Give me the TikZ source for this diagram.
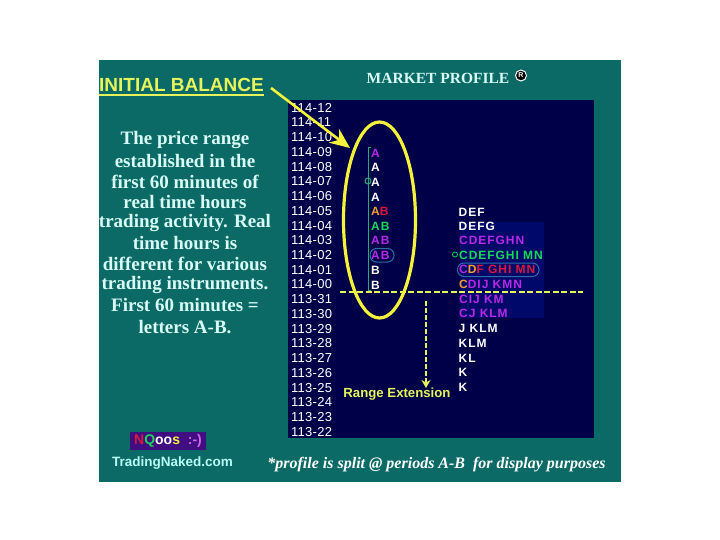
\documentclass[tikz,border=0pt]{standalone}
\usepackage{fontspec}
\setmainfont{Liberation Serif}
\setsansfont{Liberation Sans}
\newfontfamily\spacedsans[LetterSpace=8]{Liberation Sans}
\newfontfamily\rowsans[LetterSpace=2]{Liberation Sans}
\usetikzlibrary{positioning}
\usetikzlibrary{shapes.geometric, arrows.meta}
\definecolor{tealbg}{HTML}{0B6A66}
\definecolor{navybg}{HTML}{000048}
\definecolor{profilebg}{HTML}{00086A}
\definecolor{ibyellow}{HTML}{F4F23A}
\definecolor{titleyel}{HTML}{E6F45C}
\definecolor{paletxt}{HTML}{D8FBF6}
\definecolor{ltrpurple}{HTML}{B828E8}
\definecolor{ltrgreen}{HTML}{18D858}
\definecolor{ltrred}{HTML}{D8183C}
\definecolor{ltrorange}{HTML}{F0A030}
\definecolor{ovalblue}{HTML}{2C6CA8}
\definecolor{linegreen}{HTML}{2CA878}
\newcommand{\cP}{\color{ltrpurple}}
\newcommand{\cG}{\color{ltrgreen}}
\newcommand{\cR}{\color{ltrred}}
\newcommand{\cO}{\color{ltrorange}}
\tikzset{
  pricerow/.style={anchor=west,inner sep=0pt,text=white,font=\rowsans\fontsize{13}{13}\selectfont},
  ltr/.style={anchor=west,inner sep=0pt,text=white,font=\spacedsans\bfseries\fontsize{12}{12}\selectfont},
  bodyline/.style={inner sep=0pt,text=paletxt,font=\bfseries\fontsize{19}{19}\selectfont},
  ibarrow/.style={ibyellow,line width=2.6pt,-{Stealth[length=20pt,width=17pt]}},
  rangeline/.style={titleyel,line width=1.6pt,dash pattern=on 6pt off 2.5pt},
  greenring/.style={circle,draw=linegreen,line width=1pt,inner sep=0pt,minimum size=6pt},
  letteroval/.style={rounded corners=6.5pt,draw=ovalblue,line width=1pt,fill=none}
}
\begin{document}
\begin{tikzpicture}[x=1pt,y=-1pt]
\useasboundingbox (0,0) rectangle (720,540);
\fill [white] (0,0) rectangle (720,540);
\fill [tealbg] (99,60) rectangle (621,482);
\fill [navybg] (288,100) rectangle (594,438);
\fill [profilebg] (460,222) rectangle (544,318);
% price column
\foreach \lab [count=\i from 0] in {114-12,114-11,114-10,114-09,114-08,114-07,114-06,114-05,114-04,114-03,114-02,114-01,114-00,113-31,113-30,113-29,113-28,113-27,113-26,113-25,113-24,113-23,113-22}
  \node [pricerow] (p\i) at (291,107.7+14.73*\i) {\lab};
% headings
\node [inner sep=0pt,text=titleyel,font=\sffamily\bfseries\fontsize{19}{19}\selectfont] (ibtitle) at (181.5,85) {INITIAL BALANCE};
\draw [titleyel,line width=1.5pt] (99,95) -- (264,95);
\node [inner sep=0pt,text=paletxt,font=\bfseries\fontsize{15.5}{15.5}\selectfont] (mptitle) at (438,78.5) {MARKET PROFILE};
\node [circle,fill=black,draw=white,line width=1pt,inner sep=0pt,minimum size=11pt,text=white,font=\sffamily\bfseries\fontsize{7}{7}\selectfont] (regmark) at (521,75.5) {R};
% left text
\foreach \txt/\yy [count=\i] in {The price range/140,established in the/161,first 60 minutes of/182,real time hours/202,trading activity. Real/223,time hours is/243,different for various/264,trading instruments./285,First 60 minutes =/305,letters A-B./327}
  \node [bodyline] (body\i) at (185,\yy) {\txt};
% period A-B column
\draw [linegreen,line width=0.8pt] (371,147) -- (368,147) -- (368,290) -- (371,290);
\node [greenring] (open1) at (368,181) {};
\node [ltr] (a1) at (371,153) {\cP A};
\node [ltr] (a2) at (371,167.5) {A};
\node [ltr] (a3) at (371,182) {A};
\node [ltr] (a4) at (371,197) {A};
\node [ltr] (a5) at (371,211.5) {\cO A\cR B};
\node [ltr] (a6) at (371,226) {\cG AB};
\node [ltr] (a7) at (371,240.5) {\cP AB};
\node [ltr] (a8) at (371,255) {\cP AB};
\node [ltr] (a9) at (371,270) {B};
\node [ltr] (a10) at (371,285) {B};
\draw [letteroval] (370,248.5) rectangle (394,262);
% profile rows
\node [ltr] (b1) at (458.5,212) {DEF};
\node [ltr] (b2) at (458.5,226) {DEFG};
\node [ltr] (b3) at (459,240) {\cP CDEFGHN};
\node [ltr] (b4) at (459,255) {\cG CDEFGHI MN};
\node [ltr] (b5) at (459,269.5) {\cP C\cO D\cR F GHI MN};
\node [ltr] (b6) at (459,284) {\cO C\cP DIJ KMN};
\node [ltr] (b7) at (459,299) {\cP CIJ KM};
\node [ltr] (b8) at (459,313.5) {\cP CJ KLM};
\node [ltr] (b9) at (458.5,328.5) {J KLM};
\node [ltr] (b10) at (458.5,343) {KLM};
\node [ltr] (b11) at (458.5,358) {KL};
\node [ltr] (b12) at (458.5,372.5) {K};
\node [ltr] (b13) at (458.5,387) {K};
\node [circle,draw=ltrgreen,line width=0.8pt,inner sep=0pt,minimum size=5pt] (open2) at (455,254.5) {};
\draw [letteroval] (457.5,263) rectangle (539,276.5);
% range lines
\coordinate (rangeL) at (340,292);
\coordinate (rangeR) at (583,292);
\coordinate (extTop) at (426,301);
\node [inner sep=0pt,text=titleyel,font=\sffamily\bfseries\fontsize{13.2}{13.2}\selectfont] (rangetxt) at (397,394) {Range Extension};
\draw [rangeline] (rangeL) -- (rangeR);
\draw [titleyel,line width=1.4pt,dash pattern=on 5pt off 2pt,-{Stealth[length=8pt,width=9pt]}] (extTop) -- (426,388);
% balance oval
\node [ellipse,draw=ibyellow,line width=3.2pt,minimum width=72pt,minimum height=196pt,inner sep=0pt] (iboval) at (379.5,220) {};
\coordinate (arrowTip) at (350,148);
\draw [ibarrow] (ibtitle.east)++(7,3) -- (arrowTip);
% logo
\node [fill=ltrpurple!35!navybg,minimum width=76pt,minimum height=18pt,inner sep=0pt,font=\sffamily\bfseries\fontsize{14}{14}\selectfont] (logo) at (168,441) {{\color{ltrred}N}{\color{ltrgreen}Q}{\color{white}oo}{\color{ibyellow}s}\ \ {\color{ltrpurple!70!white}:-)}};
\node [inner sep=0pt,text=paletxt!85!cyan,font=\sffamily\bfseries\fontsize{13.5}{13.5}\selectfont] (site) at (172.5,463) {TradingNaked.com};
\node [inner sep=0pt,text=white,font=\bfseries\itshape\fontsize{16}{16}\selectfont] (footnote) at (436.5,464.5) {*profile is split @ periods A-B\ \ for display purposes};
\end{tikzpicture}
\end{document}
